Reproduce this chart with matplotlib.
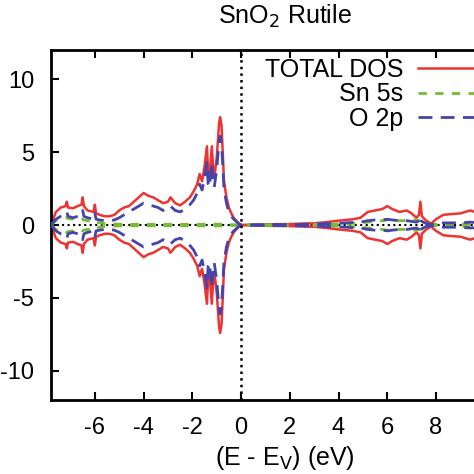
import matplotlib.pyplot as plt

plt.rcParams['font.family'] = ['Liberation Sans', 'DejaVu Sans']
plt.rcParams['axes.unicode_minus'] = False

# energy grid (eV) shared by all curves
energy = [-7.8, -7.6, -7.4, -7.2, -7.15, -7.1, -6.9, -6.7, -6.55, -6.5, -6.45, -6.3, -6.05, -6.0, -5.95,
          -5.8, -5.6, -5.4, -5.2, -5.0, -4.8, -4.6, -4.4, -4.2, -4.0,
          -3.8, -3.6, -3.4, -3.2, -3.0, -2.9, -2.7, -2.5, -2.3, -2.1,
          -1.95, -1.8, -1.7, -1.6, -1.5, -1.4, -1.35, -1.3, -1.2, -1.15,
          -1.1, -1.0, -0.9, -0.86, -0.8, -0.7, -0.6, -0.5, -0.4, -0.3,
          -0.2, -0.1, 0.0, 0.5, 1.0, 1.5, 2.0, 2.5, 3.0, 3.5,
          4.0, 4.3, 4.6, 4.9, 5.2, 5.5, 5.8, 6.0, 6.2, 6.5,
          6.8, 7.0, 7.2, 7.3, 7.36, 7.42, 7.6, 7.8, 8.0, 8.3,
          8.6, 9.0, 9.4, 9.8, 10.2]

total_dos = [0.0, 0.9, 1.2, 1.3, 1.6, 1.2, 1.15, 1.3, 1.4, 1.9, 1.3, 1.0, 0.9, 1.4, 0.8,
             0.7, 0.6, 0.6, 0.7, 1.0, 1.2, 1.3, 1.6, 1.9, 2.2,
             2.0, 1.9, 1.7, 1.5, 1.6, 1.9, 1.5, 1.35, 1.6, 1.9,
             2.3, 2.8, 3.5, 3.0, 4.0, 5.4, 3.5, 3.3, 5.4, 4.0,
             3.2, 4.6, 7.0, 7.4, 6.8, 3.0, 1.9, 1.2, 0.8, 0.5,
             0.3, 0.12, 0.0, 0.03, 0.05, 0.06, 0.07, 0.1, 0.12, 0.2,
             0.3, 0.35, 0.4, 0.5, 0.9, 1.0, 1.1, 1.3, 1.1, 0.9,
             1.0, 0.8, 0.5, 0.7, 1.6, 0.6, 0.3, 0.1, 0.4, 0.7,
             0.75, 0.8, 1.0, 0.8, 0.7]

sn_5s = [0.0, 0.3, 0.45, 0.5, 0.5, 0.45, 0.4, 0.35, 0.35, 0.4, 0.35, 0.3, 0.25, 0.3, 0.2,
         0.15, 0.1, 0.08, 0.07, 0.06, 0.05, 0.05, 0.05, 0.05, 0.05,
         0.05, 0.05, 0.05, 0.05, 0.05, 0.05, 0.05, 0.05, 0.05, 0.05,
         0.05, 0.05, 0.05, 0.05, 0.06, 0.06, 0.06, 0.06, 0.06, 0.06,
         0.06, 0.06, 0.06, 0.06, 0.06, 0.05, 0.05, 0.04, 0.03, 0.02,
         0.01, 0.005, 0.0, 0.01, 0.02, 0.02, 0.03, 0.04, 0.05, 0.06,
         0.08, 0.1, 0.12, 0.15, 0.2, 0.25, 0.3, 0.35, 0.35, 0.3,
         0.3, 0.35, 0.35, 0.3, 0.3, 0.2, 0.1, 0.05, 0.05, 0.08,
         0.08, 0.08, 0.1, 0.08, 0.08]

o_2p = [0.0, 0.4, 0.6, 0.7, 0.9, 0.6, 0.5, 0.6, 0.7, 1.0, 0.6, 0.5, 0.4, 0.8, 0.4,
        0.35, 0.3, 0.3, 0.35, 0.5, 0.7, 0.9, 1.1, 1.3, 1.5,
        1.4, 1.3, 1.2, 1.0, 1.1, 1.3, 1.0, 0.9, 1.1, 1.4,
        1.7, 2.2, 2.8, 2.4, 3.2, 4.3, 2.8, 2.6, 4.3, 3.2,
        2.6, 3.8, 5.8, 6.1, 5.6, 2.5, 1.5, 0.9, 0.6, 0.4,
        0.25, 0.1, 0.0, 0.02, 0.03, 0.04, 0.04, 0.05, 0.06, 0.1,
        0.12, 0.15, 0.18, 0.2, 0.3, 0.35, 0.35, 0.4, 0.35, 0.3,
        0.3, 0.25, 0.2, 0.3, 0.6, 0.25, 0.1, 0.05, 0.1, 0.15,
        0.15, 0.15, 0.2, 0.15, 0.15]

red = '#ee3333'
green = '#77bb33'
blue = '#4444aa'

fig = plt.figure(figsize=(4.74, 4.74), dpi=100)
ax = fig.add_axes([0.1076, 0.156, 0.987, 0.7384])

ax.axhline(0, color='black', ls=':', lw=1.5, zorder=1)
ax.axvline(0, color='black', ls=':', lw=1.8, zorder=4)

ax.plot(energy, total_dos, color=red, lw=1.8, label='TOTAL DOS', zorder=2)
ax.plot(energy, [-v for v in total_dos], color=red, lw=1.8, zorder=2)
ax.plot(energy, sn_5s, color=green, lw=2, ls=(0, (3, 3)), label='Sn 5s', zorder=3)
ax.plot(energy, [-v for v in sn_5s], color=green, lw=2, ls=(0, (3, 3)), zorder=3)
ax.plot(energy, o_2p, color=blue, lw=2, ls=(0, (5, 3)), label='O 2p', zorder=3)
ax.plot(energy, [-v for v in o_2p], color=blue, lw=2, ls=(0, (5, 3)), zorder=3)

ax.set_xlim(-7.8, 11.4)
ax.set_ylim(-12, 12)
ax.set_xticks([-6, -4, -2, 0, 2, 4, 6, 8])
ax.set_yticks([-10, -5, 0, 5, 10])
ax.tick_params(direction='in', length=6, width=1.5, labelsize=17, top=True, right=True)
ax.tick_params(axis='y', pad=12)
ax.tick_params(axis='x', pad=12)
for s in ax.spines.values():
    s.set_linewidth(2)

ax.set_title('SnO$_2$ Rutile', fontsize=18, pad=19)
ax.set_xlabel('(E - E$_\\mathrm{V}$) (eV)', fontsize=18, labelpad=4)

ax.legend(loc='upper right', bbox_to_anchor=(488 / 474, 0.878), bbox_transform=fig.transFigure,
          markerfirst=False, frameon=False, fontsize=18, handlelength=2.8, handletextpad=0.6,
          labelspacing=0.02, borderpad=0, borderaxespad=0)

fig.savefig('out.png', dpi=100)
